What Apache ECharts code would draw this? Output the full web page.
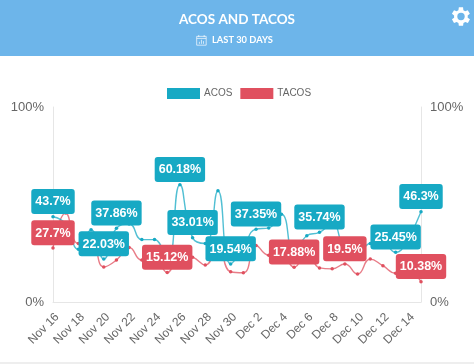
<!DOCTYPE html>
<html><head><meta charset="utf-8">
<style>html,body{margin:0;padding:0;background:#fff}#c{width:474px;height:364px}</style>
<script src="https://cdn.jsdelivr.net/npm/echarts@6/dist/echarts.min.js"></script>
</head><body><div id="c"></div>
<script>
const categories = ["Nov 16","Nov 17","Nov 18","Nov 19","Nov 20","Nov 21","Nov 22","Nov 23","Nov 24","Nov 25","Nov 26","Nov 27","Nov 28","Nov 29","Nov 30","Dec 1","Dec 2","Dec 3","Dec 4","Dec 5","Dec 6","Dec 7","Dec 8","Dec 9","Dec 10","Dec 11","Dec 12","Dec 13","Dec 14","Dec 15"];
const acos = [43.7,40,27,37,22.03,37.86,40,32,32,20,60.18,33.01,30,57,19.54,28,37.35,38,45,25,34,35.74,40,27,24,30,30,25.45,33,46.3];
const tacos = [27.7,45.6,30,31,18,21.5,28,21.5,23,15.12,24,23,19,28,15.5,15,29,24,24,17.88,26,17.5,17,19.5,14.3,22,18.6,14.8,15.5,10.38];
const acosLabelled = [0,4,5,10,11,14,16,21,27,29];
const tacosLabelled = [0,9,19,23,29];
const yTicks = [0,100];
const TEAL='#17a9c4', RED='#e0505f', HEADER='#6db5ea';
const GEAR='M19.4 13a7.5 7.5 0 0 0 0-2l2.1-1.6-2-3.5-2.5 1a7.5 7.5 0 0 0-1.7-1L15 3.2h-4l-.4 2.7a7.5 7.5 0 0 0-1.7 1l-2.5-1-2 3.5L6.5 11a7.5 7.5 0 0 0 0 2l-2.1 1.6 2 3.5 2.5-1a7.5 7.5 0 0 0 1.7 1l.4 2.7h4l.4-2.7a7.5 7.5 0 0 0 1.7-1l2.5 1 2-3.5z';
const CAL='M1 2h14v13H1zM1 5h14M4 0v3M12 0v3M5 13V10M8 13V7M11 13V9';
echarts.graphic.registerShape('gearIcon',echarts.graphic.extendPath(GEAR,{}));
echarts.graphic.registerShape('calIcon',echarts.graphic.extendPath(CAL,{}));
function pts(vals, labelled, color){
  return vals.map((v,i)=>labelled.includes(i)?{value:v,label:{show:true,position:'top',distance:1,formatter:v+'%',color:'#fff',fontFamily:'Liberation Sans',fontWeight:'bold',fontSize:12.5,backgroundColor:color,borderRadius:3,padding:[6,4,5,4],lineHeight:14}}:v);
}
function yAxis(pos){return {type:'value',position:pos,min:yTicks[0],max:yTicks[1],interval:100,
  axisLine:{show:true,lineStyle:{color:'#e6e6e6'}},axisTick:{show:false},splitLine:{show:false},
  axisLabel:{formatter:'{value}%',color:'#666',fontFamily:'Liberation Sans',fontSize:13,margin:9}};}
function line(name,vals,labelled,color){return {name,type:'line',yAxisIndex:0,smooth:0.5,data:pts(vals,labelled,color),
  symbol:'circle',symbolSize:3.5,showSymbol:true,showAllSymbol:true,itemStyle:{color},lineStyle:{color,width:1.4,opacity:.75},animation:false};}
const chart=echarts.init(document.getElementById('c'),null,{renderer:'canvas'});
chart.setOption({
  animation:false,backgroundColor:'#fff',
  legend:{top:88,left:167,padding:0,itemWidth:33,itemHeight:11,itemGap:8,icon:'rect',data:['ACOS','TACOS'],
    textStyle:{color:'#666',fontFamily:'Liberation Sans',fontSize:10,padding:[0,0,0,-1]}},
  grid:{left:53,right:53,top:107,bottom:62},
  xAxis:{type:'category',boundaryGap:false,data:categories,
    axisLine:{lineStyle:{color:'#e6e6e6'}},axisTick:{show:false},splitLine:{show:false},
    axisLabel:{interval:1,rotate:45,color:'#666',fontFamily:'Liberation Sans',fontSize:12,margin:9,verticalAlign:'top',hideOverlap:false}},
  yAxis:[yAxis('left'),yAxis('right')],
  series:[line('TACOS',tacos,tacosLabelled,RED),line('ACOS',acos,acosLabelled,TEAL)],
  graphic:[
    {type:'rect',z:-1,shape:{x:0,y:0,width:474,height:56},style:{fill:HEADER}},
    {type:'rect',z:-1,shape:{x:0,y:362,width:474,height:2},style:{fill:'#eeeeee'}},
    {type:'text',x:237,y:20,z:5,style:{text:'ACOS AND TACOS',fill:'#fff',font:'bold 13.5px Lato',align:'center',verticalAlign:'middle'}},
    {type:'text',x:212,y:40,z:5,style:{text:'LAST 30 DAYS',fill:'#fff',font:'bold 9.3px Lato',align:'left',verticalAlign:'middle'}},
    {type:'calIcon',z:5,x:196,y:35,scaleX:.68,scaleY:.68,style:{fill:'none',stroke:'#fff',lineWidth:1}},
    {type:'gearIcon',z:5,x:447.3,y:4,scaleX:1.05,scaleY:1.05,style:{fill:'#fff'}},
    {type:'circle',z:6,shape:{cx:461,cy:16.5,r:3.7},style:{fill:HEADER}}
  ]
});
</script></body></html>
